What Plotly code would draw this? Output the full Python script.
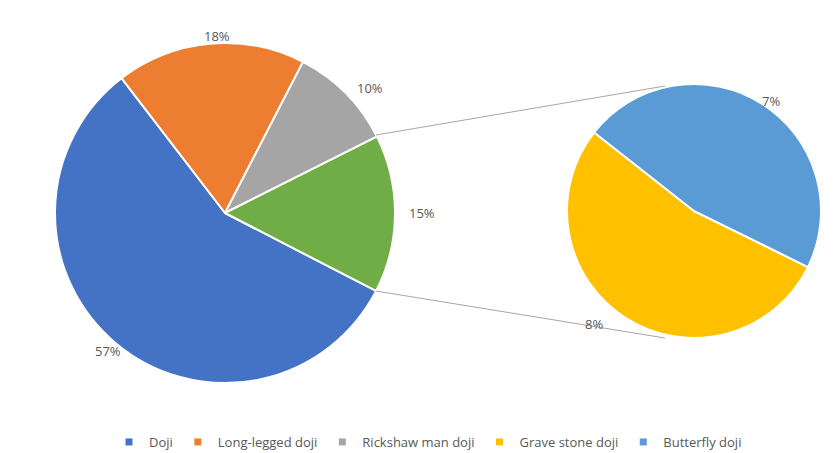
import plotly.graph_objects as go

W, H = 840, 453

main_labels = ["Doji", "Long-legged doji", "Rickshaw man doji", "Other"]
main_values = [57, 18, 10, 15]
main_colors = ["#4472C4", "#ED7D31", "#A5A5A5", "#70AD47"]

sub_labels = ["Grave stone doji", "Butterfly doji"]
sub_values = [8, 7]
sub_colors = ["#FFC000", "#5B9BD5"]

legend_labels = ["Doji", "Long-legged doji", "Rickshaw man doji", "Grave stone doji", "Butterfly doji"]
legend_colors = ["#4472C4", "#ED7D31", "#A5A5A5", "#FFC000", "#5B9BD5"]


def px(x, y):
    return x / W, 1 - y / H


fig = go.Figure()
fig.add_trace(go.Pie(
    labels=main_labels, values=main_values, sort=False, direction="clockwise",
    rotation=117.3, marker=dict(colors=main_colors, line=dict(color="white", width=2)),
    textinfo="none", showlegend=False, hoverinfo="label+value",
    domain=dict(x=[47 / W, 387 / W], y=[1 - 375 / H, 1 - 35 / H]),
))
fig.add_trace(go.Pie(
    labels=sub_labels, values=sub_values, sort=False, direction="clockwise",
    rotation=116.2, marker=dict(colors=sub_colors, line=dict(color="white", width=2)),
    textinfo="none", showlegend=False, hoverinfo="label+value",
    domain=dict(x=[559 / W, 813 / W], y=[1 - 330 / H, 1 - 76 / H]),
))

for lab, col in zip(legend_labels, legend_colors):
    fig.add_trace(go.Scatter(x=[None], y=[None], mode="markers", name=lab,
                             marker=dict(symbol="square", size=7, color=col)))

# percentage labels (Excel style, outside slices)
label_pos = [("57%", 85, 354), ("18%", 194, 17), ("10%", 362, 69),
             ("15%", 414, 205), ("8%", 597, 327), ("7%", 774, 82)]
for txt, x, y in label_pos:
    ax, ay = px(x, y)
    fig.add_annotation(x=ax, y=ay, xref="paper", yref="paper", text=txt,
                       showarrow=False, font=dict(size=13, color="#595959"))

# connector lines between the two pies
for (x0, y0), (x1, y1) in [((368, 127), (657, 78)), ((368, 283), (657, 330))]:
    a0, b0 = px(x0, y0)
    a1, b1 = px(x1, y1)
    fig.add_shape(type="line", xref="paper", yref="paper", x0=a0, y0=b0, x1=a1, y1=b1,
                  line=dict(color="#A6A6A6", width=1))

fig.update_layout(
    width=W, height=H, margin=dict(l=0, r=0, t=0, b=0),
    paper_bgcolor="white", plot_bgcolor="white",
    font=dict(family="Open Sans, Liberation Sans, sans-serif", color="#595959", size=13),
    xaxis=dict(visible=False), yaxis=dict(visible=False),
    legend=dict(orientation="h", x=0.5, xanchor="center", y=1 - 434 / H, yanchor="middle",
                font=dict(size=13, color="#595959"), itemwidth=30),
)

fig.write_html("out.html")
